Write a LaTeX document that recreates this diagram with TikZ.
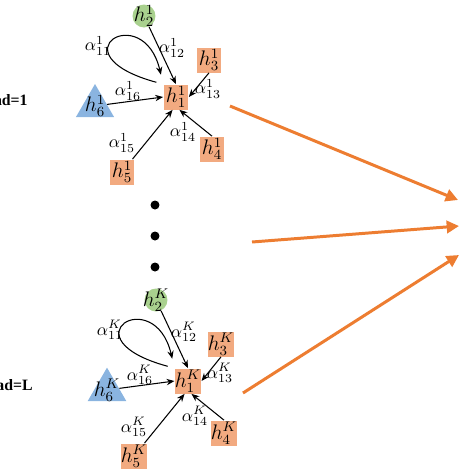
\documentclass[tikz,border=0pt]{standalone}
\usepackage{amsmath,amssymb}
\usepackage{fontspec}
\usepackage{tikz}
\usetikzlibrary{arrows.meta,shapes.geometric}
\newfontfamily\headfont{Liberation Serif}
\definecolor{nodeorange}{HTML}{F2AA80}
\definecolor{nodegreen}{HTML}{A9D18E}
\definecolor{nodeblue}{HTML}{8AB4E0}
\definecolor{flow}{HTML}{ED7D31}

\begin{document}
\begin{tikzpicture}[x=0.02cm,y=0.02cm,
    hsq/.style={fill=nodeorange,minimum size=0.5cm,inner sep=0pt,font=\large},
    hcirc/.style={circle,fill=nodegreen,minimum size=0.46cm,inner sep=-3pt,font=\large},
    htri/.style={regular polygon,regular polygon sides=3,fill=nodeblue,minimum size=0.88cm,inner sep=-3pt,font=\large},
    att/.style={-{Stealth[length=4.5pt,width=3.6pt]},semithick},
    wlab/.style={inner sep=0pt},
    headlab/.style={anchor=east,font=\headfont\small\bfseries,inner sep=0pt},
    vdot/.style={circle,fill=black,minimum size=0.18cm,inner sep=0pt},
    flowarr/.style={flow,line width=1.7pt,-{Triangle[length=7pt,width=7pt]}}]
  \useasboundingbox (0,0) rectangle (474,-474);
  \clip (0,0) rectangle (474,-474);
  % head labels (cut at the left border)
  \node[headlab] (head1) at (28,-100) {Head=1};
  \node[headlab] (headL) at (33,-385) {Head=L};
  % one attention star per head
  \foreach \gk/\gx/\gy in {1/0/0,K/12/-284} {
    \begin{scope}[shift={(\gx,\gy)}]
      \node[hsq] (h1-\gk) at (176,-97) {$h_1^{\gk}$};
      \node[hcirc] (h2-\gk) at (144,-16) {$h_2^{\gk}$};
      \node[hsq] (h3-\gk) at (209,-60) {$h_3^{\gk}$};
      \node[hsq] (h4-\gk) at (212,-149) {$h_4^{\gk}$};
      \node[hsq] (h5-\gk) at (122,-172) {$h_5^{\gk}$};
      \node[htri] (h6-\gk) at (95,-106) {$h_6^{\gk}$};
      % weights
      \node[wlab] (a11-\gk) at (98,-46) {$\alpha_{11}^{\gk}$};
      \node[wlab] (a12-\gk) at (172,-48) {$\alpha_{12}^{\gk}$};
      \node[wlab] (a13-\gk) at (208,-89) {$\alpha_{13}^{\gk}$};
      \node[wlab] (a16-\gk) at (128,-91) {$\alpha_{16}^{\gk}$};
      \node[wlab] (a15-\gk) at (122,-143) {$\alpha_{15}^{\gk}$};
      \node[wlab] (a14-\gk) at (183,-132) {$\alpha_{14}^{\gk}$};
      % edges into h1
      \draw[att] (h2-\gk) -- (h1-\gk.north);
      \draw[att] (h3-\gk.south) -- (h1-\gk.east);
      \draw[att] (h4-\gk.north) -- (h1-\gk.-75);
      \draw[att] (h5-\gk) -- (h1-\gk.-105);
      \draw[att] (h6-\gk) -- (h1-\gk.west);
      \draw[att,shorten <=4pt,shorten >=5.5pt] (h1-\gk.north west)
        .. controls +(-110,30) and +(-20,85) .. (h1-\gk.north west);
    \end{scope}
  }
  % vertical dots
  \foreach \dy [count=\di] in {-205,-236,-267}
    \node[vdot] (dot\di) at (155,\dy) {};
  % outputs
  \coordinate (out1s) at (230,-106);
  \coordinate (out1e) at (458,-200);
  \coordinate (out2s) at (252,-242);
  \coordinate (out2e) at (459,-226);
  \coordinate (out3s) at (243,-393);
  \coordinate (out3e) at (459,-255);
  \draw[flowarr] (out1s) -- (out1e);
  \draw[flowarr] (out2s) -- (out2e);
  \draw[flowarr] (out3s) -- (out3e);
\end{tikzpicture}
\end{document}
